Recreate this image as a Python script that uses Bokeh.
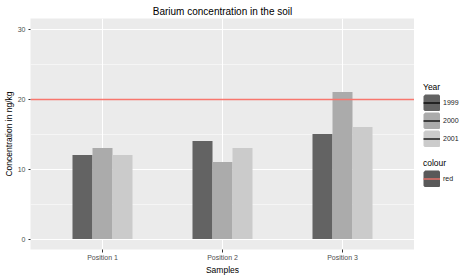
from bokeh.plotting import figure
from bokeh.layouts import row
from bokeh.models import (FactorRange, Range1d, SingleIntervalTicker, Legend,
                          LegendItem, ColumnDataSource)
from bokeh.transform import dodge
from bokeh.embed import file_html
from bokeh.resources import INLINE

positions = ["Position 1", "Position 2", "Position 3"]
years = ["1999", "2000", "2001"]
conc_1999 = [12, 14, 15]
conc_2000 = [13, 11, 21]
conc_2001 = [12, 13, 16]
threshold = [20]
year_colors = ["#636363", "#ababab", "#cbcbcb"]
threshold_color = "#f8766d"
FONT = "Liberation Sans"

source = ColumnDataSource(dict(pos=positions, y1999=conc_1999, y2000=conc_2000, y2001=conc_2001))

p = figure(width=414, height=277,
           x_range=FactorRange(factors=positions, range_padding=0.1,
                               range_padding_units="absolute", factor_padding=0),
           y_range=Range1d(-1.5, 31.5),
           output_backend="svg", toolbar_location=None,
           title="Barium concentration in the soil",
           min_border_left=27, min_border_right=0,
           min_border_top=18, min_border_bottom=27)

p.background_fill_color = "#ebebeb"
p.border_fill_color = "white"
p.outline_line_color = None

p.title.align = "center"
p.title.text_font = FONT
p.title.text_font_size = "10px"
p.title.text_font_style = "normal"
p.title.text_color = "black"
p.title.standoff = 3

bw = 1 / 6
offsets = [-bw, 0, bw]
cols = ["y1999", "y2000", "y2001"]
for off, col, c in zip(offsets, cols, year_colors):
    p.vbar(x=dodge("pos", off, range=p.x_range), top=col, bottom=0, width=bw,
           source=source, fill_color=c, line_color=None)

p.hspan(y=threshold, line_color=threshold_color, line_width=1.3)

# axes
p.yaxis.ticker = SingleIntervalTicker(interval=10, num_minor_ticks=2)
for ax in (p.xaxis[0], p.yaxis[0]):
    ax.axis_line_color = None
    ax.major_tick_line_color = "#333333"
    ax.major_tick_out = 3
    ax.major_tick_in = 0
    ax.minor_tick_line_color = None
    ax.major_label_text_font = FONT
    ax.major_label_text_font_size = "7px"
    ax.major_label_text_color = "#4d4d4d"
    ax.major_label_standoff = 1
    ax.axis_label_text_font = FONT
    ax.axis_label_text_font_size = "8.5px"
    ax.axis_label_text_font_style = "normal"
    ax.axis_label_text_color = "black"
    ax.axis_label_standoff = 1
p.yaxis.major_tick_out = 2
p.yaxis.axis_label_standoff = 1
p.xaxis.axis_label = "Samples"
p.yaxis.axis_label = "Concentration in ng/kg"

p.xgrid.grid_line_color = "white"
p.xgrid.grid_line_width = 1
p.ygrid.grid_line_color = "white"
p.ygrid.grid_line_width = 1
p.ygrid.minor_grid_line_color = "white"
p.ygrid.minor_grid_line_width = 0.5

# legend panel (separate figure so the keys are not clipped by the plot frame)
lf = figure(width=60, height=277, x_range=Range1d(0, 1), y_range=Range1d(0, 1),
            output_backend="svg", toolbar_location=None, min_border=0)
lf.axis.visible = False
lf.grid.visible = False
lf.outline_line_color = None
lf.background_fill_color = "white"
lf.border_fill_color = "white"

# invisible proxy renderers that only supply the legend keys
black_line = lf.line(x=[0, 1], y=[0, 0], line_color="black", line_width=1.3, visible=False)
red_line = lf.line(x=[0, 1], y=[0, 0], line_color=threshold_color, line_width=1.3, visible=False)
key_bars = [lf.vbar(x=[0], top=[0], width=0.1, fill_color=c, line_color=c,
                    line_width=3.4, visible=False) for c in year_colors]
dark_key = lf.vbar(x=[0], top=[0], width=0.1, fill_color="#595959", line_color="#595959",
                   line_width=3.4, visible=False)

common = dict(padding=0, margin=0, spacing=1, glyph_width=17, glyph_height=17,
              label_height=17, label_standoff=3, label_text_font=FONT,
              label_text_font_size="7px", label_text_color="#1a1a1a",
              title_text_font=FONT, title_text_font_size="8.5px",
              title_text_font_style="normal", title_text_color="black",
              title_standoff=2, border_line_color=None, background_fill_alpha=0)

leg1 = Legend(items=[LegendItem(label=y, renderers=[b, black_line]) for y, b in zip(years, key_bars)],
              title="Year", location=(9, 102.5), **common)
leg2 = Legend(items=[LegendItem(label="red", renderers=[dark_key, red_line])],
              title="colour", location=(9, 62.5), **common)
lf.add_layout(leg1)
lf.add_layout(leg2)

layout = row(p, lf, spacing=0)
open("out.html", "w").write(file_html(layout, INLINE))
